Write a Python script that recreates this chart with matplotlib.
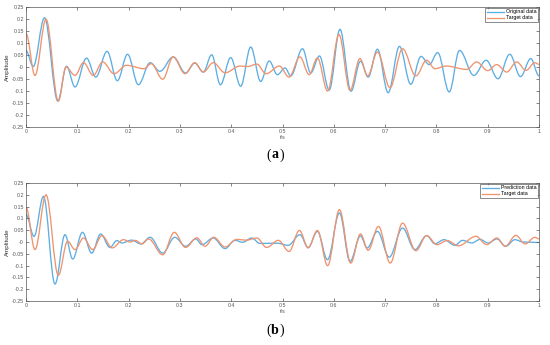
import numpy as np
import matplotlib
matplotlib.use('Agg')
import matplotlib.pyplot as plt
from matplotlib.path import Path
from matplotlib.patches import PathPatch
from matplotlib.lines import Line2D

# (a) original vs target, turning points
a_orig_t = [0, 0.014, 0.036, 0.062, 0.079, 0.0955, 0.118, 0.136, 0.158, 0.178, 0.198, 0.219, 0.242, 0.261,
            0.287, 0.311, 0.329, 0.3456, 0.362, 0.379, 0.399, 0.4185, 0.438, 0.4575, 0.474, 0.49, 0.505, 0.516,
            0.539, 0.555, 0.572, 0.591, 0.612, 0.6335, 0.652, 0.667, 0.685, 0.706, 0.728, 0.75, 0.77, 0.786,
            0.8025, 0.825, 0.845, 0.873, 0.897, 0.92, 0.943, 0.964, 0.984, 1.0]
a_orig_v = [0.068, 0.002, 0.205, -0.142, 0.003, -0.083, 0.037, -0.042, 0.065, -0.057, 0.053, -0.074, 0.018, -0.018,
            0.042, -0.025, 0.016, -0.021, 0.051, -0.074, 0.039, -0.08, 0.083, -0.06, 0.025, -0.032, -0.004, -0.037,
            0.076, -0.025, 0.046, -0.096, 0.157, -0.101, 0.024, -0.042, 0.074, -0.107, 0.086, -0.072, 0.044, 0.01,
            0.06, -0.104, 0.069, -0.035, 0.028, -0.049, 0.053, -0.04, 0.035, -0.037]

a_targ_t = [0, 0.0175, 0.039, 0.063, 0.078, 0.0955, 0.112, 0.131, 0.1495, 0.1715, 0.196, 0.23, 0.244, 0.2665,
            0.287, 0.31, 0.329, 0.3456, 0.365, 0.388, 0.417, 0.432, 0.45, 0.468, 0.494, 0.5127, 0.534, 0.552,
            0.568, 0.588, 0.61, 0.6316, 0.651, 0.666, 0.685, 0.7096, 0.734, 0.76, 0.781, 0.797, 0.819, 0.859,
            0.8785, 0.9, 0.9175, 0.937, 0.9565, 0.9747, 0.992, 1.0]
a_targ_v = [0.139, -0.035, 0.199, -0.142, 0.0, -0.035, 0.018, -0.035, 0.021, -0.028, 0.007, -0.007, 0.014, -0.051,
            0.042, -0.028, 0.018, -0.021, 0.018, -0.024, 0.004, 0.002, 0.012, -0.028, 0.004, -0.042, 0.042, -0.032,
            0.0375, -0.1, 0.135, -0.097, 0.035, -0.037, 0.0625, -0.086, 0.076, -0.037, 0.028, -0.007, 0.004, -0.01,
            0.021, -0.015, 0.01, -0.021, 0.021, -0.014, 0.018, 0.011]

# (b) prediction vs target
b_pred_t = [0, 0.0156, 0.034, 0.0565, 0.076, 0.091, 0.11, 0.128, 0.1455, 0.1637, 0.177, 0.187, 0.206, 0.224,
            0.242, 0.2664, 0.29, 0.311, 0.331, 0.343, 0.365, 0.388, 0.407, 0.4225, 0.44, 0.456, 0.49, 0.511,
            0.534, 0.55, 0.568, 0.5877, 0.611, 0.6316, 0.652, 0.665, 0.685, 0.708, 0.734, 0.758, 0.781, 0.797,
            0.815, 0.836, 0.851, 0.869, 0.885, 0.901, 0.918, 0.935, 0.953, 0.969, 1.0]
b_pred_v = [0.116, 0.024, 0.193, -0.178, 0.031, -0.072, 0.041, -0.047, 0.034, -0.023, 0.006, -0.004, 0.008, -0.008,
            0.02, -0.047, 0.02, -0.018, 0.013, -0.011, 0.017, -0.028, 0.007, -0.001, 0.017, -0.006, -0.005, -0.014,
            0.031, -0.023, 0.045, -0.075, 0.123, -0.082, 0.026, -0.025, 0.045, -0.064, 0.059, -0.032, 0.027, -0.007,
            0.01, -0.014, 0.007, -0.004, 0.011, -0.004, 0.013, -0.018, 0.01, 0.0, -0.002]

b_targ_t = [0, 0.0175, 0.039, 0.063, 0.081, 0.0955, 0.112, 0.13, 0.148, 0.168, 0.19, 0.203, 0.213, 0.226,
            0.239, 0.2664, 0.289, 0.311, 0.333, 0.349, 0.366, 0.388, 0.411, 0.43, 0.45, 0.469, 0.492, 0.5127,
            0.533, 0.55, 0.568, 0.588, 0.611, 0.633, 0.652, 0.667, 0.687, 0.71, 0.734, 0.76, 0.781, 0.801,
            0.821, 0.843, 0.877, 0.898, 0.918, 0.934, 0.955, 0.973, 0.992, 1.0]
b_targ_v = [0.147, -0.032, 0.2, -0.141, 0.003, -0.032, 0.017, -0.032, 0.027, -0.025, 0.01, 0.0, 0.007, -0.008,
            0.013, -0.054, 0.041, -0.023, 0.018, -0.018, 0.02, -0.021, 0.011, 0.008, 0.017, -0.023, 0.007, -0.04,
            0.049, -0.025, 0.049, -0.1, 0.137, -0.089, 0.034, -0.035, 0.066, -0.089, 0.08, -0.037, 0.027, -0.011,
            0.006, -0.016, 0.024, -0.011, 0.017, -0.018, 0.028, -0.008, 0.02, 0.013]

x_ticks = np.arange(0, 1.01, 0.1)
y_ticks = np.arange(-0.25, 0.2501, 0.05)

BLUE = '#5daee2'
ORANGE = '#f0936f'
GRAY = '#555555'

plt.rcParams['font.family'] = 'Liberation Sans'


def smooth_path(t, v, k=0.36):
    # smooth curve through turning points (flat tangent at each one)
    verts = [(t[0], v[0])]
    codes = [Path.MOVETO]
    for i in range(1, len(t)):
        d = t[i] - t[i - 1]
        verts += [(t[i - 1] + k * d, v[i - 1]), (t[i] - k * d, v[i]), (t[i], v[i])]
        codes += [Path.CURVE4] * 3
    return Path(verts, codes)


def panel(ax, series, labels):
    for (t, v), c in zip(series, [BLUE, ORANGE]):
        ax.add_patch(PathPatch(smooth_path(t, v), fill=False, edgecolor=c, lw=0.95))
    ax.set_xlim(0, 1)
    ax.set_ylim(-0.25, 0.25)
    ax.set_xticks(x_ticks)
    ax.set_xticklabels(['0'] + ['%g' % round(x, 1) for x in x_ticks[1:]])
    ax.set_yticks(y_ticks)
    ax.set_yticklabels(['%g' % round(y, 2) for y in y_ticks])
    ax.tick_params(direction='in', length=2.5, width=0.5, labelsize=3.8, colors=GRAY,
                   top=True, right=True, pad=1.5)
    for s in ax.spines.values():
        s.set_linewidth(0.5)
        s.set_color(GRAY)
    ax.set_xlabel('t/s', fontsize=4, color=GRAY, labelpad=1)
    ax.set_ylabel('Amplitude', fontsize=4.5, color='#333333', labelpad=1)
    handles = [Line2D([], [], color=BLUE, lw=0.95), Line2D([], [], color=ORANGE, lw=0.95)]
    leg = ax.legend(handles, labels, loc='upper right', fontsize=3.8, frameon=True, fancybox=False,
                    edgecolor='#333333', borderpad=0.3, handlelength=3.2, labelspacing=0.2,
                    borderaxespad=0.15, handletextpad=0.4)
    leg.get_frame().set_linewidth(0.5)


fig = plt.figure(figsize=(5.5, 3.45), dpi=100)
ax1 = fig.add_axes([0.0473, 0.6319, 0.9327, 0.3478])
ax2 = fig.add_axes([0.0473, 0.1275, 0.9327, 0.342])

panel(ax1, [(a_orig_t, a_orig_v), (a_targ_t, a_targ_v)], ['Original data', 'Target data'])
panel(ax2, [(b_pred_t, b_pred_v), (b_targ_t, b_targ_v)], ['Prediction data', 'Target data'])

for y, letter in [(1 - 155 / 345, 'a'), (1 - 330 / 345, 'b')]:
    fig.text(0.5, y, letter, ha='center', va='center', fontsize=10, fontweight='bold',
             family='Liberation Serif')
    fig.text(0.5 - 0.0075, y, '(', ha='right', va='center', fontsize=10, family='Liberation Serif')
    fig.text(0.5 + 0.0075, y, ')', ha='left', va='center', fontsize=10, family='Liberation Serif')

fig.savefig('out.png', dpi=100)
